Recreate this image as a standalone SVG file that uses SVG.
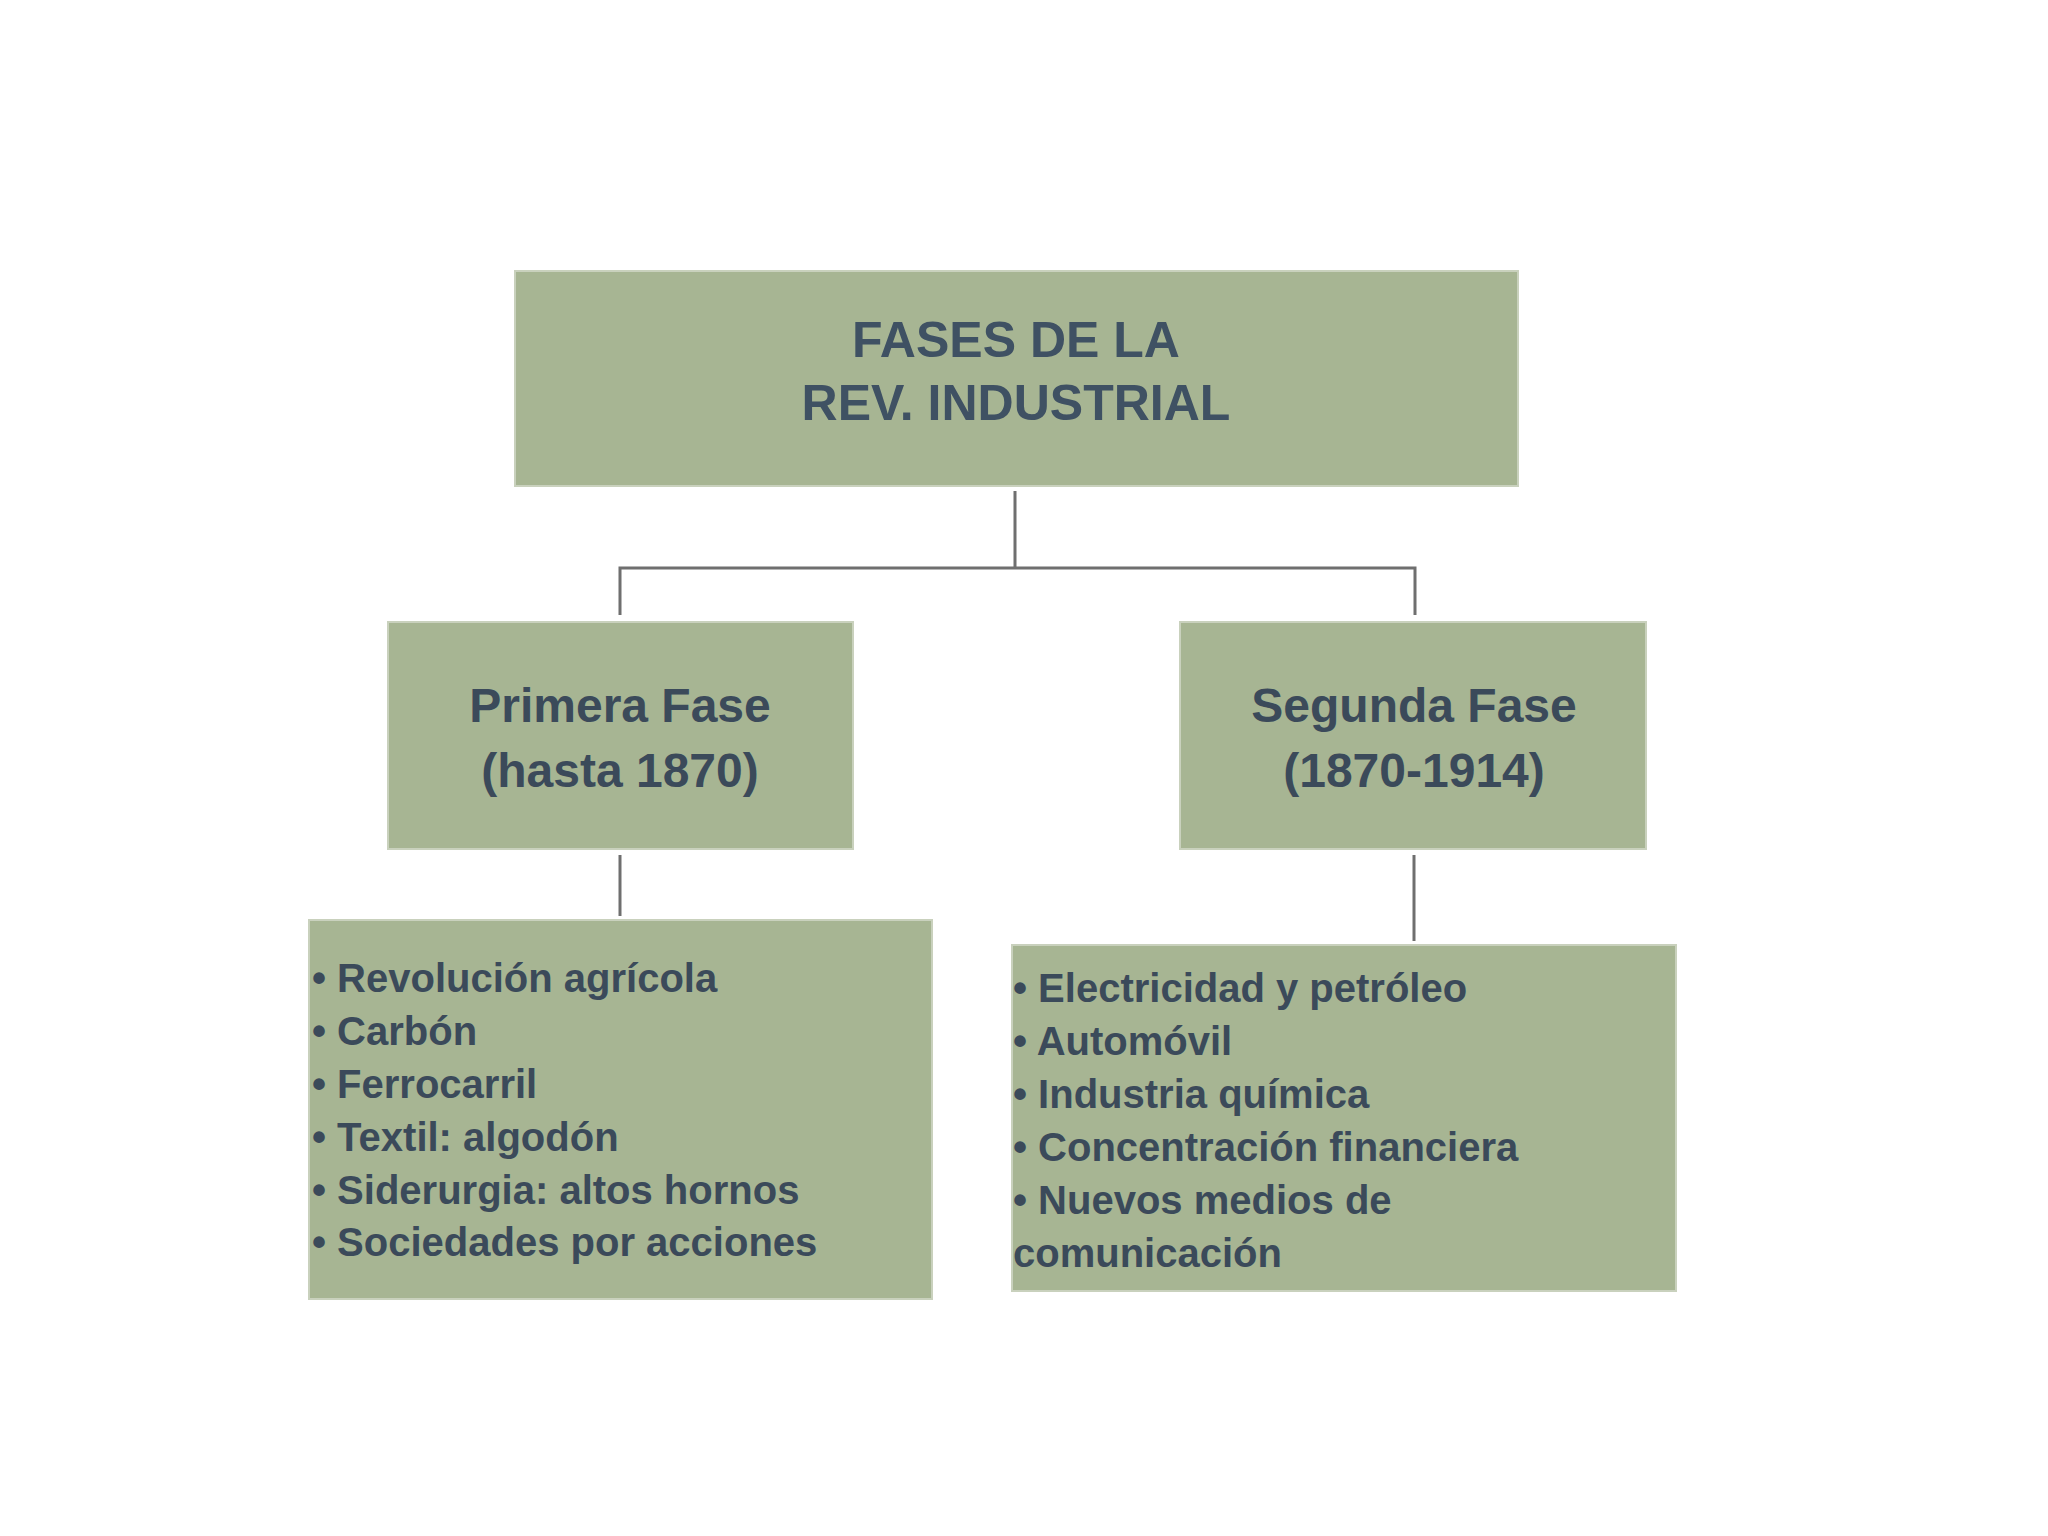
<svg xmlns="http://www.w3.org/2000/svg" width="2048" height="1536" viewBox="0 0 2048 1536">
<style>
.box{fill:#a7b593;stroke:#c9d1bd;stroke-width:2}
.t{font-family:"Liberation Sans",Arial,sans-serif;font-weight:bold;fill:#3b4a5a}
.h{font-size:48px;text-anchor:middle}
.l{font-size:40px}
.c{stroke:#6f6f6f;stroke-width:3;fill:none}
</style>
<rect width="2048" height="1536" fill="#ffffff"/>
<g id="connectors">
<path class="c" d="M1015 491V568M620 615V568H1415V615"/>
<path class="c" d="M620 855V916"/>
<path class="c" d="M1414 855V941"/>
</g>
<g id="root">
<rect class="box" x="515" y="271" width="1003" height="215"/>
<text class="t h" x="1016" y="357" style="font-size:50px;fill:#3f5163">FASES DE LA</text>
<text class="t h" x="1016" y="420" style="font-size:50px;fill:#3f5163">REV. INDUSTRIAL</text>
</g>
<g id="primera">
<rect class="box" x="388" y="622" width="465" height="227"/>
<text class="t h" x="620" y="722">Primera Fase</text>
<text class="t h" x="620" y="787">(hasta 1870)</text>
</g>
<g id="segunda">
<rect class="box" x="1180" y="622" width="466" height="227"/>
<text class="t h" x="1414" y="722">Segunda Fase</text>
<text class="t h" x="1414" y="787">(1870-1914)</text>
</g>
<g id="lista1">
<rect class="box" x="309" y="920" width="623" height="379"/>
<text class="t l" x="312" y="992">• Revolución agrícola</text>
<text class="t l" x="312" y="1045">• Carbón</text>
<text class="t l" x="312" y="1098">• Ferrocarril</text>
<text class="t l" x="312" y="1151">• Textil: algodón</text>
<text class="t l" x="312" y="1204">• Siderurgia: altos hornos</text>
<text class="t l" x="312" y="1256">• Sociedades por acciones</text>
</g>
<g id="lista2">
<rect class="box" x="1012" y="945" width="664" height="346"/>
<text class="t l" x="1013" y="1002">• Electricidad y petróleo</text>
<text class="t l" x="1013" y="1055">• Automóvil</text>
<text class="t l" x="1013" y="1108">• Industria química</text>
<text class="t l" x="1013" y="1161">• Concentración financiera</text>
<text class="t l" x="1013" y="1214">• Nuevos medios de</text>
<text class="t l" x="1013" y="1267">comunicación</text>
</g>
</svg>
